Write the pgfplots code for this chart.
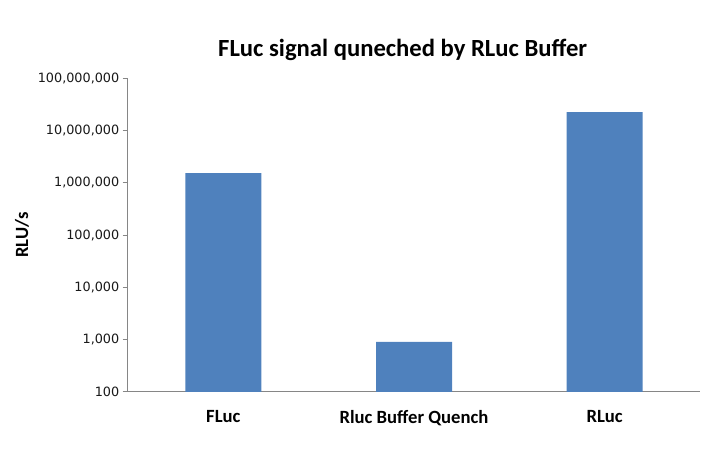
\documentclass[border=0pt]{standalone}
\usepackage{pgfplots}
\pgfplotsset{compat=1.18}
\usepackage{fontspec}
\setmainfont{Carlito}
\newfontfamily\tickfont{DejaVu Sans}
\definecolor{barblue}{HTML}{4F81BD}
\definecolor{axgray}{HTML}{868686}
\begin{document}
\begin{tikzpicture}
\path[use as bounding box] (0,0) rectangle (540.75pt,342.75pt);
\begin{axis}[
  at={(96pt,48.75pt)}, anchor=south west,
  scale only axis, width=429pt, height=235.5pt,
  ymode=log, ymin=100, ymax=100000000, log basis y=10,
  xmin=-0.5, xmax=2.5,
  xtick=data, xticklabels={FLuc, Rluc Buffer Quench, RLuc},
  ytick={100,1000,10000,100000,1000000,10000000,100000000},
  yticklabels={100,{1,000},{10,000},{100,000},{1,000,000},{10,000,000},{100,000,000}},
  axis x line*=bottom, axis y line*=left,
  axis line style={axgray, line width=0.75pt, -},
  x axis line style={-}, y axis line style={-},
  major x tick style={draw=none},
  ytick style={axgray, line width=0.75pt},
  tick align=outside,
  major tick length=4pt, minor tick length=3pt,
  minor y tick num=8,
  yticklabel style={font=\tickfont\fontsize{9.6}{11}\selectfont, text=black!90, xshift=1pt},
  xticklabel style={font=\bfseries\fontsize{14}{16}\selectfont, yshift=-6pt},
  ybar, bar width=57pt,
]
\addplot[fill=barblue, draw=none, bar shift=0pt, log origin=infty] coordinates {(0,1530000) (1,903) (2,22400000)};
\end{axis}
\node[font=\bfseries\fontsize{14}{16}\selectfont, rotate=90] at (16.5pt,166.5pt) {RLU/s};
\node[font=\bfseries\fontsize{18.5}{22}\selectfont] at (302pt,305pt) {FLuc signal quneched by RLuc Buffer};
\end{tikzpicture}
\end{document}
